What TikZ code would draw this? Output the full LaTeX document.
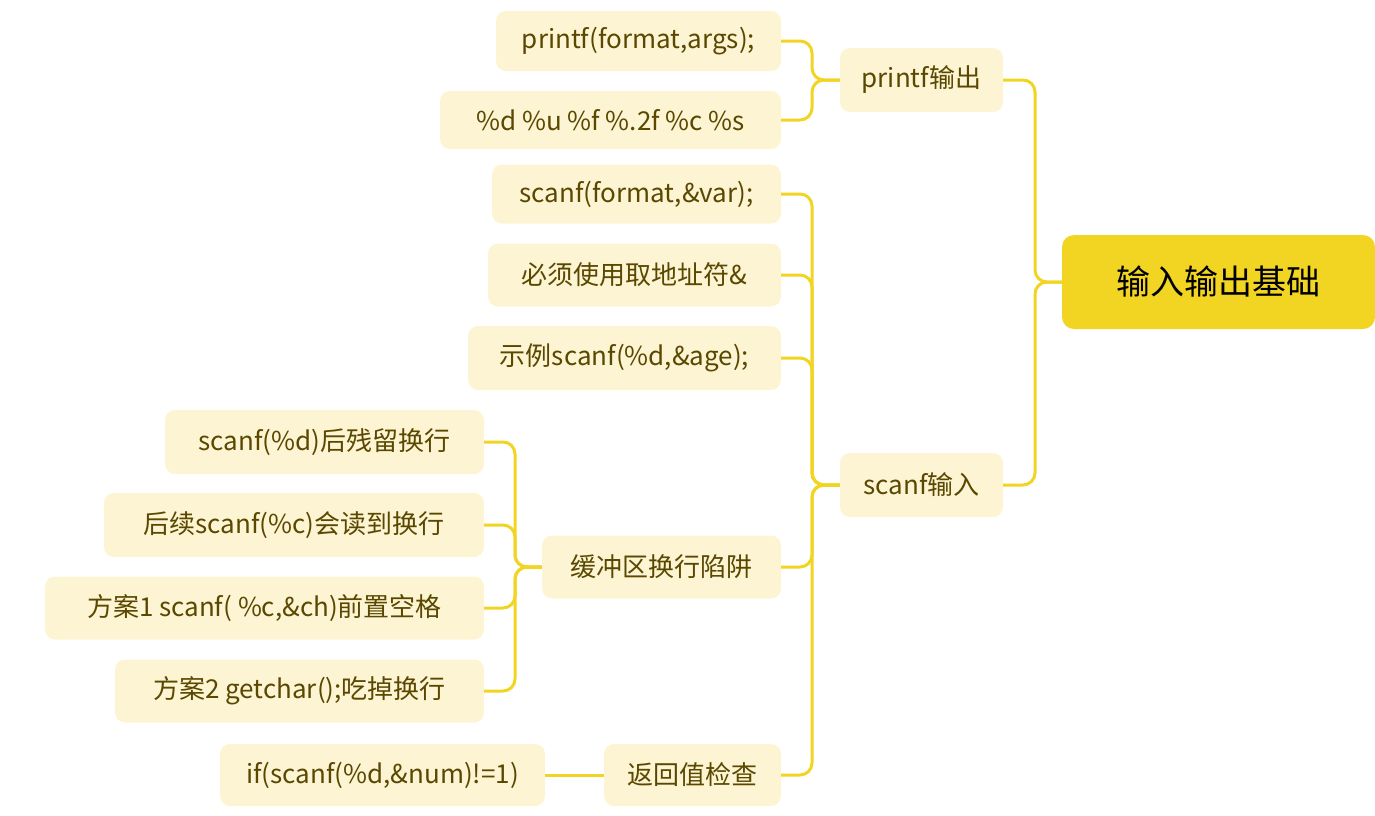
\documentclass[tikz,border=0pt]{standalone}
\usepackage{fontspec}
\setmainfont{Noto Sans CJK SC}
\definecolor{lf}{HTML}{FCF4D2}
\definecolor{lt}{HTML}{5A4800}
\definecolor{ln}{HTML}{F2D422}
\begin{document}
\begin{tikzpicture}[x=1pt,y=-1pt,
 leaf/.style={fill=lf,text=lt,rounded corners=10pt,inner sep=0pt,font=\fontsize{26}{30}\selectfont},
 rootn/.style={fill=ln,text=black,rounded corners=12pt,inner sep=0pt,font=\fontsize{34}{40}\selectfont},
 conn/.style={draw=ln,line width=3pt,rounded corners=12pt}]
\useasboundingbox (0,0) rectangle (1375,815);
\node[rootn,minimum width=313,minimum height=94] (root) at (1218.5,282) {输入输出基础};
\node[leaf,minimum width=163,minimum height=64] (pf) at (921.5,80) {printf输出};
\node[leaf,minimum width=163,minimum height=64] (sf) at (921.5,485) {scanf输入};
\node[leaf,minimum width=285,minimum height=60] (p1) at (638.5,41) {printf(format,args);};
\node[leaf,minimum width=341,minimum height=58] (p2) at (610.5,120) {\%d \%u \%f \%.2f \%c \%s};
\node[leaf,minimum width=289,minimum height=59] (s1) at (636.5,194) {scanf(format,\&var);};
\node[leaf,minimum width=293,minimum height=63] (s2) at (634.5,275) {必须使用取地址符\&};
\node[leaf,minimum width=313,minimum height=64] (s3) at (624.5,358) {示例scanf(\%d,\&age);};
\node[leaf,minimum width=239,minimum height=63] (s4) at (661.5,567) {缓冲区换行陷阱};
\node[leaf,minimum width=177,minimum height=62] (s5) at (692.5,775) {返回值检查};
\node[leaf,minimum width=319,minimum height=64] (b1) at (324.5,442) {scanf(\%d)后残留换行};
\node[leaf,minimum width=380,minimum height=64] (b2) at (294,525) {后续scanf(\%c)会读到换行};
\node[leaf,minimum width=439,minimum height=63] (b3) at (264.5,608) {方案1 scanf( \%c,\&ch)前置空格};
\node[leaf,minimum width=369,minimum height=63] (b4) at (299.5,691) {方案2 getchar();吃掉换行};
\node[leaf,minimum width=325,minimum height=62] (r1) at (382.5,775) {if(scanf(\%d,\&num)!=1)};
\coordinate (x0) at (1035,0);
\coordinate (x1) at (812,0);
\coordinate (x2) at (515,0);
\foreach \c in {pf,sf} \draw[conn] (root.west) -- (root.west -| x0) |- (\c.east);
\foreach \c in {p1,p2} \draw[conn] (pf.west) -- (pf.west -| x1) |- (\c.east);
\foreach \c in {s1,s2,s3,s4,s5} \draw[conn] (sf.west) -- (sf.west -| x1) |- (\c.east);
\foreach \c in {b1,b2,b3,b4} \draw[conn] (s4.west) -- (s4.west -| x2) |- (\c.east);
\draw[conn] (s5.west) -- (r1.east);
\end{tikzpicture}
\end{document}
